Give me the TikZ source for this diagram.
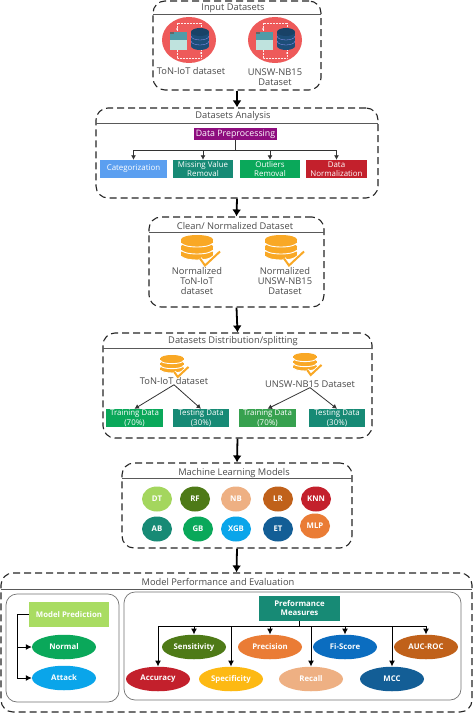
\documentclass[tikz,border=0pt]{standalone}
\usepackage{fontspec}
\setmainfont{Open Sans}
\usetikzlibrary{arrows.meta,shapes.geometric}
\definecolor{txt}{HTML}{4A4A4A}
\definecolor{cteal}{HTML}{178A75}
\definecolor{cgreen}{HTML}{0AA85A}
\definecolor{cblue}{HTML}{0AA5EA}
\definecolor{cnavy}{HTML}{135E96}
\definecolor{cred}{HTML}{C3202C}
\definecolor{cbrown}{HTML}{C0611A}
\definecolor{colive}{HTML}{4E7A17}
\definecolor{corange}{HTML}{EA7C35}
\definecolor{cpeach}{HTML}{EEB083}
\definecolor{cdb}{HTML}{F9A825}
\definecolor{ccircle}{HTML}{EE5A5A}
\definecolor{cdisk}{HTML}{1D4E79}
\definecolor{cpurple}{HTML}{8E0D7F}
\definecolor{csky}{HTML}{5B9FF0}
\definecolor{cforest}{HTML}{37A14F}
\definecolor{clime}{HTML}{A4D65E}
\definecolor{clime2}{HTML}{A9DC62}
\definecolor{cmid}{HTML}{0B6DC0}
\definecolor{cyel}{HTML}{FDB913}
\definecolor{cfile}{HTML}{BFE3DE}
\definecolor{cfile2}{HTML}{4F9BA8}
\tikzset{
  stage/.style={draw=black!85,line width=1.1pt,dash pattern=on 7pt off 4pt,rounded corners=12pt,inner sep=0pt},
  divider/.style={draw=black!65,line width=0.7pt},
  title/.style={text=txt,font=\fontsize{9.3}{11}\selectfont,inner sep=0pt},
  label/.style={text=txt,font=\fontsize{9.3}{10}\selectfont,inner sep=0pt,align=center},
  panel/.style={draw=black!55,line width=0.7pt,rounded corners=11pt,inner sep=0pt},
  tag/.style={inner sep=0pt,text=white,align=center,font=\fontsize{7.9}{9.5}\selectfont},
  blob/.style={ellipse,inner sep=0pt,text=white,font=\bfseries\fontsize{7.8}{9}\selectfont},
  big/.style={ellipse,inner sep=0pt,minimum width=64pt,minimum height=24.5pt,text=white,font=\bfseries\fontsize{7.8}{9}\selectfont},
  model/.style={blob,minimum width=30pt,minimum height=25pt},
  flow/.style={draw=black!80,line width=0.8pt},
  flowtip/.style={flow,-{Latex[length=4.5pt,width=5pt]}},
  heavy/.style={draw=black,line width=1pt},
  heavytip/.style={heavy,-{Latex[length=6pt,width=6pt]}},
  strong/.style={draw=black,line width=1.8pt,-{Latex[length=7pt,width=9pt]}},
}
\newcommand{\servericon}[2]{%
  \begin{scope}[shift={(#1,#2)}]
    \fill[ccircle] (0,0) ellipse [x radius=27, y radius=23];
    \draw[white!90!ccircle,densely dotted,line width=0.5pt] (-12,-17) rectangle (12,18);
    \fill[white] (-12,-11) circle (1) (12,13) circle (1);
    \fill[cfile] (-19,-8) rectangle (-2,10);
    \fill[cfile2] (-19,-8) rectangle (-2,0);
    \fill[black!60] (-19,-8) rectangle (-15,-6);
    \fill[cdisk] (11,6) ellipse [x radius=9,y radius=4];
    \fill[cdisk] (2,-8) rectangle (20,6);
    \draw[blue!40!white,line width=0.3pt] (11,1) ellipse [x radius=9,y radius=4];
    \fill[cdisk] (2,-8) rectangle (20,1);
    \draw[blue!40!white,line width=0.3pt] (11,-4) ellipse [x radius=9,y radius=4];
    \fill[cdisk] (2,-8) rectangle (20,-4);
    \fill[cdisk!85!black] (11,-8) ellipse [x radius=9,y radius=4];
  \end{scope}}
\newcommand{\dbicon}[3]{%
  \begin{scope}[shift={(#1,#2)},scale=#3]
    \foreach \yy in {5,-1,-8}{
      \fill[cdb,draw=white,line width=0.9pt] (0,\yy+3) ellipse [x radius=16,y radius=4.5];
      \fill[cdb] (-16,\yy) rectangle (16,\yy+3);
      \fill[cdb] (0,\yy) ellipse [x radius=16,y radius=4.5];
    }
    \draw[white,line width=3.8pt] (3,11) -- (8,18) -- (23,4);
    \draw[cdb,line width=2pt] (3,11) -- (8,18) -- (23,4);
  \end{scope}}
\begin{document}
\begin{tikzpicture}[x=1pt,y=-1pt]
\useasboundingbox (0,0) rectangle (474,714);
\fill[white] (0,0) rectangle (474,714);

% stage 1
\node[stage,minimum width=168pt,minimum height=89pt] (st1) at (237,45.5) {};
\draw[divider] (153,14) -- (321,14);
\node[title] (t1) at (233,8.5) {Input Datasets};
\servericon{189}{40}
\servericon{275}{40}
\node[label] (l1a) at (191,71.5) {ToN-IoT dataset};
\node[label] (l1b) at (275,77) {UNSW-NB15\\Dataset};

% stage 2
\node[stage,minimum width=282pt,minimum height=90pt] (st2) at (237,153) {};
\draw[divider] (96,123) -- (378,123);
\node[title] (t2) at (233,116.5) {Datasets Analysis};
\node[tag,fill=cpurple,minimum width=83pt,minimum height=12pt,font=\fontsize{8.8}{10}\selectfont] (dp) at (235.5,134) {Data Preprocessing};
\node[tag,fill=csky,minimum width=67pt,minimum height=18pt] (cat) at (133.5,169) {Categorization};
\node[tag,fill=cteal,minimum width=60pt,minimum height=18pt] (mis) at (203,169) {Missing Value\\Removal};
\node[tag,fill=cgreen,minimum width=60pt,minimum height=18pt] (out) at (270,169) {Outliers\\Removal};
\node[tag,fill=cred,minimum width=61pt,minimum height=18pt] (nor) at (336.5,169) {Data\\Normalization};
\coordinate (b2) at (235.5,150);
\draw[flow] (dp.south) -- (b2);
\foreach \n in {cat,mis,out,nor}{\draw[flowtip] (b2) -| (\n.north);}

% stage 3
\node[stage,minimum width=175pt,minimum height=90pt] (st3) at (236.5,262) {};
\draw[divider] (149,232) -- (324,232);
\node[title] (t3) at (235,226) {Clean/ Normalized Dataset};
\dbicon{197}{247.5}{1}
\dbicon{281}{247.5}{1}
\node[label] (l3a) at (197,281) {Normalized\\ToN-IoT\\dataset};
\node[label] (l3b) at (285,281) {Normalized\\UNSW-NB15\\Dataset};

% stage 4
\node[stage,minimum width=269pt,minimum height=105pt] (st4) at (237.5,385.5) {};
\draw[divider] (103,348) -- (372,348);
\node[title] (t4) at (233,341) {Datasets Distribution/splitting};
\dbicon{172}{364}{0.72}
\dbicon{305}{362}{0.72}
\node[label] (l4a) at (174,381) {ToN-IoT dataset};
\node[label] (l4b) at (310,384) {UNSW-NB15 Dataset};
\node[tag,fill=cgreen,minimum width=57pt,minimum height=18pt] (d1) at (134.5,418) {Training Data\\(70\%)};
\node[tag,fill=cteal,minimum width=56pt,minimum height=18pt] (d2) at (201,418) {Testing Data\\(30\%)};
\node[tag,fill=cforest,minimum width=57pt,minimum height=18pt] (d3) at (267.5,418) {Training Data\\(70\%)};
\node[tag,fill=cteal,minimum width=56pt,minimum height=18pt] (d4) at (337,418) {Testing Data\\(30\%)};
\draw[flowtip] (l4a.south) -- (d1.north);
\draw[flowtip] (l4a.south) -- (d2.north);
\draw[flowtip] (l4b.south) -- (d3.north);
\draw[flowtip] (l4b.south) -- (d4.north);

% stage 5
\node[stage,minimum width=230pt,minimum height=85pt] (st5) at (237,505.5) {};
\draw[divider] (122,478) -- (352,478);
\node[title] (t5) at (234,473) {Machine Learning Models};
\node[model,fill=clime] (m1) at (157,499) {DT};
\node[model,fill=colive] (m2) at (195,499) {RF};
\node[model,fill=cpeach] (m3) at (236,499) {NB};
\node[model,fill=cbrown] (m4) at (278,499) {LR};
\node[model,fill=cred] (m5) at (316,499) {KNN};
\node[model,fill=cteal] (m6) at (157,529) {AB};
\node[model,fill=cgreen] (m7) at (198,529) {GB};
\node[model,fill=cblue] (m8) at (236,529) {XGB};
\node[model,fill=cnavy] (m9) at (278,529) {ET};
\node[model,fill=corange] (m10) at (315,526) {MLP};

% stage 6
\node[stage,minimum width=471pt,minimum height=139pt] (st6) at (236.5,642.5) {};
\draw[divider] (1,589) -- (472,589);
\node[title] (t6) at (218,582) {Model Performance and Evaluation};
\node[panel,minimum width=113pt,minimum height=108pt] (pl) at (62.5,648) {};
\node[panel,minimum width=337pt,minimum height=108pt] (pr) at (292.5,646) {};
\node[blob,rectangle,fill=clime2,minimum width=80pt,minimum height=25pt] (mp) at (69,614.5) {Model Prediction};
\node[big,fill=cgreen] (nrm) at (64,647) {Normal};
\node[big,fill=cblue] (atk) at (64,678) {Attack};
\coordinate (b6a) at (17,614.5);
\coordinate (b6n) at (17,647);
\coordinate (b6t) at (17,678);
\draw[heavy] (mp.west) -- (b6a) -- (b6t);
\draw[heavytip] (b6n) -- (nrm.west);
\draw[heavytip] (b6t) -- (atk.west);

\node[blob,rectangle,fill=cteal,minimum width=81pt,minimum height=25pt,align=center] (pm) at (299.5,608.5) {Preformance\\Measures};
\node[big,fill=colive] (e1) at (194,647) {Sensitivity};
\node[big,fill=corange] (e2) at (270,647) {Precision};
\node[big,fill=cmid] (e3) at (345,647) {Fi-Score};
\node[big,fill=cbrown] (e4) at (426,647) {AUC-ROC};
\node[big,fill=cred] (e5) at (158,679) {Accuracy};
\node[big,fill=cyel] (e6) at (231,679) {Specificity};
\node[big,fill=cpeach] (e7) at (311,679) {Recall};
\node[big,fill=cnavy] (e8) at (392,679) {MCC};
\coordinate (b6) at (299.5,626);
\draw[heavy] (pm.south) -- (b6);
\foreach \n in {e1,e2,e3,e4,e5,e6,e7,e8}{\draw[heavytip] (b6) -| (\n.north);}

% main flow
\draw[strong] (st1.south) -- (st2.north);
\draw[strong] (st2.south) -- (st3.north);
\draw[strong] (st3.south) -- (st4.north);
\draw[strong] (st4.south) -- (st5.north);
\draw[strong] (st5.south) -- (st6.north);
\end{tikzpicture}
\end{document}
